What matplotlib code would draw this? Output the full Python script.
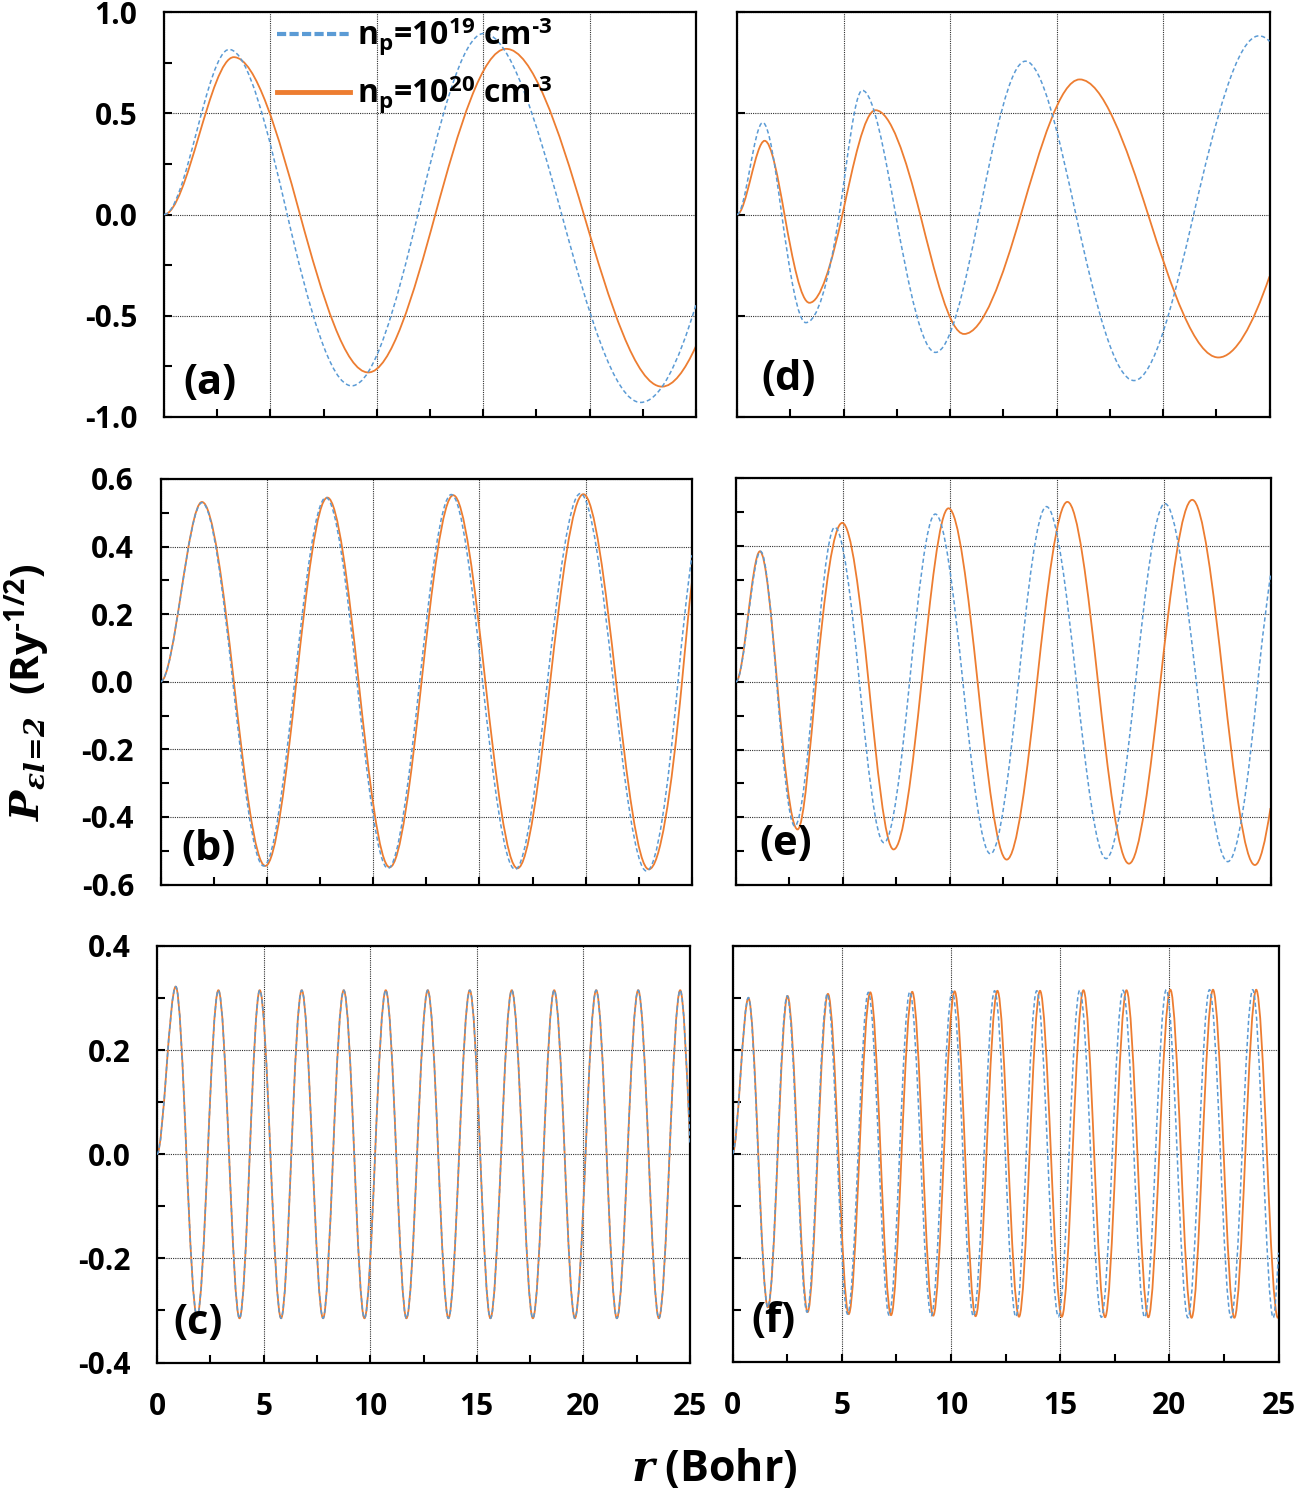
import numpy as np
import matplotlib
matplotlib.use("Agg")
import matplotlib.pyplot as plt
from matplotlib.path import Path
from matplotlib.patches import PathPatch
from matplotlib.lines import Line2D
from matplotlib.ticker import FixedLocator, FuncFormatter

plt.rcParams['font.family'] = ['Open Sans', 'DejaVu Sans']
plt.rcParams['font.weight'] = 'bold'
plt.rcParams['mathtext.fontset'] = 'custom'
plt.rcParams['mathtext.bf'] = 'Open Sans:bold'
plt.rcParams['mathtext.it'] = 'DejaVu Serif:italic:bold'
plt.rcParams['mathtext.rm'] = 'DejaVu Serif:italic'

BLUE = '#5B9BD5'
ORANGE = '#ED7D31'

# ---------------- data ----------------
# each series: extrema (x, y), zero crossings (x), end point at r = 25
# panel (a)
a19_ext_x = [3.06, 8.82, 15.03, 22.40]
a19_ext_y = [0.815, -0.846, 0.894, -0.928]
a19_zero_x = [5.79, 11.93, 18.69]
a19_end = (25, -0.445)
a20_ext_x = [3.28, 9.60, 16.08, 23.40]
a20_ext_y = [0.777, -0.780, 0.818, -0.850]
a20_zero_x = [6.39, 12.75, 19.73]
a20_end = (25, -0.650)

# panel (b)
b19_ext_x = [1.95, 4.85, 7.78, 10.70, 13.68, 16.68, 19.75, 22.86]
b19_ext_y = [0.530, -0.545, 0.545, -0.552, 0.554, -0.555, 0.557, -0.560]
b19_zero_x = [3.40, 6.31, 9.24, 12.19, 15.15, 18.20, 21.30, 24.34]
b19_end = (25, 0.375)
b20_ext_x = [1.95, 4.93, 7.85, 10.78, 13.77, 16.79, 19.89, 22.97]
b20_ext_y = [0.532, -0.545, 0.545, -0.549, 0.552, -0.552, 0.555, -0.555]
b20_zero_x = [3.45, 6.39, 9.32, 12.28, 15.28, 18.33, 21.43, 24.53]
b20_end = (25, 0.296)

# panel (c)
c19_ext_x = [0.88, 1.88, 2.88, 3.87, 4.82, 5.82, 6.79, 7.79, 8.76, 9.73, 10.73, 11.70,
             12.70, 13.67, 14.67, 15.64, 16.64, 17.63, 18.63, 19.60, 20.60, 21.57, 22.57,
             23.54, 24.54]
c19_ext_y = [0.322, -0.312, 0.315, -0.315, 0.315, -0.315, 0.315, -0.315, 0.315, -0.315,
             0.315, -0.315, 0.315, -0.315, 0.315, -0.315, 0.315, -0.315, 0.315, -0.315,
             0.315, -0.315, 0.315, -0.315, 0.315]
c19_zero_x = [1.38, 2.38, 3.38, 4.35, 5.32, 6.30, 7.29, 8.26, 9.25, 10.23, 11.22, 12.20,
              13.19, 14.17, 15.16, 16.14, 17.14, 18.13, 19.12, 20.10, 21.09, 22.07, 23.06,
              24.04]
c19_end = (25, 0.02)
c20_ext_x = [0.88, 1.88, 2.88, 3.87, 4.82, 5.82, 6.79, 7.79, 8.76, 9.73, 10.73, 11.70,
             12.70, 13.67, 14.67, 15.64, 16.64, 17.63, 18.63, 19.60, 20.60, 21.57, 22.57,
             23.54, 24.54]
c20_ext_y = [0.322, -0.312, 0.315, -0.315, 0.315, -0.315, 0.315, -0.315, 0.315, -0.315,
             0.315, -0.315, 0.315, -0.315, 0.315, -0.315, 0.315, -0.315, 0.315, -0.315,
             0.315, -0.315, 0.315, -0.315, 0.315]
c20_zero_x = [1.38, 2.38, 3.38, 4.35, 5.32, 6.30, 7.29, 8.26, 9.25, 10.23, 11.22, 12.20,
              13.19, 14.17, 15.16, 16.14, 17.14, 18.13, 19.12, 20.10, 21.09, 22.07, 23.06,
              24.04]
c20_end = (25, 0.02)

# panel (d)
d19_ext_x = [1.21, 3.23, 5.88, 9.32, 13.54, 18.64, 24.50]
d19_ext_y = [0.454, -0.534, 0.613, -0.681, 0.757, -0.820, 0.882]
d19_zero_x = [2.10, 4.80, 7.45, 11.37, 15.91, 21.44]
d19_end = (25, 0.855)
d20_ext_x = [1.30, 3.40, 6.50, 10.66, 16.09, 22.60]
d20_ext_y = [0.364, -0.436, 0.515, -0.590, 0.667, -0.706]
d20_zero_x = [2.23, 4.95, 8.60, 13.33, 19.30]
d20_end = (25, -0.306)

# panel (e)
e19_ext_x = [1.15, 2.75, 4.62, 6.92, 9.32, 11.90, 14.52, 17.31, 20.06, 23.00]
e19_ext_y = [0.385, -0.426, 0.456, -0.475, 0.495, -0.508, 0.517, -0.522, 0.526, -0.531]
e19_zero_x = [1.90, 3.66, 5.77, 8.12, 10.61, 13.21, 15.92, 18.69, 21.53, 24.41]
e19_end = (25, 0.314)
e20_ext_x = [1.12, 2.88, 4.97, 7.37, 9.94, 12.66, 15.50, 18.38, 21.34, 24.27]
e20_ext_y = [0.385, -0.436, 0.469, -0.495, 0.512, -0.525, 0.531, -0.537, 0.537, -0.541]
e20_zero_x = [1.92, 3.75, 6.20, 8.68, 11.30, 14.08, 16.93, 19.85, 22.80]
e20_end = (25, -0.373)

# panel (f)
f19_ext_x = [0.73, 1.62, 2.50, 3.41, 4.34, 5.27, 6.22, 7.17, 8.12, 9.10, 10.06, 11.03,
             12.00, 12.97, 13.93, 14.92, 15.90, 16.89, 17.88, 18.87, 19.86, 20.85, 21.84,
             22.83, 23.82, 24.76]
f19_ext_y = [0.300, -0.295, 0.303, -0.304, 0.307, -0.308, 0.310, -0.310, 0.311, -0.311,
             0.312, -0.312, 0.313, -0.313, 0.313, -0.313, 0.314, -0.314, 0.314, -0.314,
             0.315, -0.315, 0.315, -0.315, 0.315, -0.315]
f19_zero_x = [1.17, 2.06, 2.96, 3.88, 4.80, 5.75, 6.70, 7.65, 8.61, 9.58, 10.55, 11.52,
              12.49, 13.45, 14.43, 15.41, 16.40, 17.39, 18.38, 19.37, 20.36, 21.35, 22.34,
              23.33, 24.29]
f19_end = (25, -0.19)
f20_ext_x = [0.73, 1.62, 2.52, 3.44, 4.37, 5.32, 6.31, 7.26, 8.23, 9.19, 10.17, 11.13,
             12.13, 13.12, 14.08, 15.08, 16.07, 17.06, 18.04, 19.04, 20.05, 21.02, 22.00,
             22.98, 23.98, 24.97]
f20_ext_y = [0.299, -0.295, 0.303, -0.304, 0.307, -0.308, 0.310, -0.310, 0.311, -0.311,
             0.312, -0.312, 0.313, -0.313, 0.313, -0.313, 0.314, -0.314, 0.314, -0.314,
             0.315, -0.315, 0.315, -0.315, 0.315, -0.315]
f20_zero_x = [1.18, 2.07, 2.98, 3.90, 4.85, 5.81, 6.78, 7.74, 8.71, 9.68, 10.65, 11.63,
              12.62, 13.60, 14.58, 15.57, 16.56, 17.55, 18.54, 19.54, 20.53, 21.51, 22.49,
              23.48, 24.47]
f20_end = (25, -0.314)

x_major = [0, 5, 10, 15, 20, 25]
x_minor = [2.5, 7.5, 12.5, 17.5, 22.5]
HY = '\u2010'
legend_labels = [r'n$_{\mathbf{p}}$=10$^{\mathbf{19}}$ cm$^{\mathbf{' + HY + '3}}$',
                 r'n$_{\mathbf{p}}$=10$^{\mathbf{20}}$ cm$^{\mathbf{' + HY + '3}}$']
panel_names = ['(a)', '(b)', '(c)', '(d)', '(e)', '(f)']


# ---------------- rendering helpers ----------------
def wave_path(ext_x, ext_y, zero_x, end):
    nodes = [(0.0, 0.0, 'o')]
    nodes += [(x, y, 'e') for x, y in zip(ext_x, ext_y)]
    nodes += [(x, 0.0, 'z') for x in zero_x]
    nodes = [nodes[0]] + sorted(nodes[1:], key=lambda n: n[0])
    nodes.append((end[0], end[1], 'end'))
    xs = np.array([n[0] for n in nodes])
    ys = np.array([n[1] for n in nodes])
    kinds = [n[2] for n in nodes]
    m = np.zeros(len(nodes))
    for i in range(1, len(nodes) - 1):
        if kinds[i] == 'z':
            m[i] = 0.5 * np.pi * (ys[i + 1] - ys[i - 1]) / (xs[i + 1] - xs[i - 1])
    # tangent at the end point (curve cut by the axis limit)
    q = xs[-2] - xs[-3]
    k = 0.5 * np.pi / q
    d = xs[-1] - xs[-2]
    if kinds[-2] == 'e':
        m[-1] = -ys[-2] * k * np.sin(k * d)
    else:
        m[-1] = -ys[-3] * k * np.cos(k * d)
    verts = [(xs[0], ys[0])]
    codes = [Path.MOVETO]
    for i in range(len(nodes) - 1):
        dx = xs[i + 1] - xs[i]
        verts += [(xs[i] + dx / 3, ys[i] + m[i] * dx / 3),
                  (xs[i + 1] - dx / 3, ys[i + 1] - m[i + 1] * dx / 3),
                  (xs[i + 1], ys[i + 1])]
        codes += [Path.CURVE4] * 3
    return Path(verts, codes)


def fmt(v, pos):
    if abs(v) < 1e-9:
        v = 0.0
    return f'{v:.1f}'


def setup(ax, ylim, ymaj, ymin, show_y, show_x):
    ax.set_xlim(0, 25)
    ax.set_ylim(*ylim)
    ax.xaxis.set_major_locator(FixedLocator(x_major))
    ax.xaxis.set_minor_locator(FixedLocator(x_minor))
    ax.yaxis.set_major_locator(FixedLocator(ymaj))
    ax.yaxis.set_minor_locator(FixedLocator(ymin))
    ax.yaxis.set_major_formatter(FuncFormatter(fmt))
    ax.set_axisbelow(True)
    ax.grid(True, which='major', linestyle=(0, (1, 1)), color='#303030', linewidth=0.8)
    ax.tick_params(which='both', direction='in', length=5.5, width=1.5,
                   top=False, right=False, labelsize=21.5)
    ax.tick_params(axis='y', pad=19, labelleft=show_y)
    ax.tick_params(axis='x', pad=21, labelbottom=show_x)
    for s in ax.spines.values():
        s.set_linewidth(1.6)
        s.set_color('black')
    for lab in ax.get_xticklabels() + ax.get_yticklabels():
        lab.set_fontweight('bold')


def draw(ax, s19, s20):
    p20 = PathPatch(wave_path(*s20), fill=False, edgecolor=ORANGE, linewidth=1.3, zorder=2)
    p19 = PathPatch(wave_path(*s19), fill=False, edgecolor=BLUE, linewidth=1.1,
                    linestyle=(0, (2.8, 1.8)), zorder=3)
    ax.add_patch(p20)
    ax.add_patch(p19)


# ---------------- figure ----------------
W, H = 1295, 1493
fig = plt.figure(figsize=(W / 100, H / 100), dpi=100)


def px_axes(l, t, r, b):
    return fig.add_axes([l / W, 1 - b / H, (r - l) / W, (b - t) / H])


ax_a = px_axes(164, 12, 696, 417)
ax_d = px_axes(737, 12, 1269.5, 417)
ax_b = px_axes(160.5, 479, 692, 884.5)
ax_e = px_axes(736, 478.5, 1270.5, 885)
ax_c = px_axes(157, 946, 690, 1362.5)
ax_f = px_axes(732.5, 945.5, 1278.5, 1362)

yl1 = ((-1, 1), [-1, -0.5, 0, 0.5, 1], [-0.75, -0.25, 0.25, 0.75])
yl2 = ((-0.6, 0.6), [-0.6, -0.4, -0.2, 0, 0.2, 0.4, 0.6], [-0.5, -0.3, -0.1, 0.1, 0.3, 0.5])
yl3 = ((-0.4, 0.4), [-0.4, -0.2, 0, 0.2, 0.4], [-0.3, -0.1, 0.1, 0.3])

setup(ax_a, *yl1, True, False)
setup(ax_d, yl1[0], yl1[1], [], False, False)
setup(ax_b, *yl2, True, False)
setup(ax_e, *yl2, False, False)
setup(ax_c, *yl3, True, True)
setup(ax_f, *yl3, False, True)

draw(ax_a, (a19_ext_x, a19_ext_y, a19_zero_x, a19_end), (a20_ext_x, a20_ext_y, a20_zero_x, a20_end))
draw(ax_b, (b19_ext_x, b19_ext_y, b19_zero_x, b19_end), (b20_ext_x, b20_ext_y, b20_zero_x, b20_end))
draw(ax_c, (c19_ext_x, c19_ext_y, c19_zero_x, c19_end), (c20_ext_x, c20_ext_y, c20_zero_x, c20_end))
draw(ax_d, (d19_ext_x, d19_ext_y, d19_zero_x, d19_end), (d20_ext_x, d20_ext_y, d20_zero_x, d20_end))
draw(ax_e, (e19_ext_x, e19_ext_y, e19_zero_x, e19_end), (e20_ext_x, e20_ext_y, e20_zero_x, e20_end))
draw(ax_f, (f19_ext_x, f19_ext_y, f19_zero_x, f19_end), (f20_ext_x, f20_ext_y, f20_zero_x, f20_end))

# legend in panel (a)
handles = [Line2D([], [], color=BLUE, lw=3, linestyle=(0, (2.2, 0.8))),
           Line2D([], [], color=ORANGE, lw=3.5)]
leg = ax_a.legend(handles, legend_labels, loc='upper left',
                  bbox_to_anchor=(277 / W, 1 - 16 / H), bbox_transform=fig.transFigure,
                  frameon=False, fontsize=23, handlelength=2.3, handletextpad=0.2,
                  borderpad=0, borderaxespad=0, labelspacing=0.5)
for t in leg.get_texts():
    t.set_fontweight('bold')

# panel labels
label_pos = {'(a)': (210, 383), '(b)': (209, 849), '(c)': (198, 1324),
             '(d)': (789, 380), '(e)': (786, 845), '(f)': (773, 1321)}
for name in panel_names:
    x, y = label_pos[name]
    fig.text(x / W, 1 - y / H, name, fontsize=30, fontweight='bold',
             ha='center', va='center')

# axis titles
fig.text(27 / W, 1 - 692 / H,
         r'$P_{\varepsilon l\!=\!2}$  (Ry$^{\mathbf{' + HY + '1/2}}$)',
         rotation=90, fontsize=29, fontweight='bold', ha='center', va='center')
fig.text(714 / W, 1 - 1469 / H, r'$r$ (Bohr)', fontsize=31, fontweight='bold',
         ha='center', va='center')

fig.savefig('out.png', dpi=100)
